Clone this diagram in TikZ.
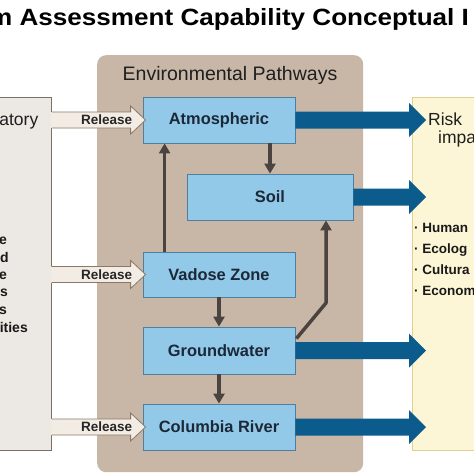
\documentclass[tikz,border=0pt]{standalone}
\usepackage{fontspec}
\setmainfont{Liberation Sans}
\usetikzlibrary{arrows.meta,calc}
\definecolor{panel}{HTML}{C8B7A7}
\definecolor{boxfill}{HTML}{93C9E8}
\definecolor{boxedge}{HTML}{4F7FA0}
\definecolor{boxtext}{HTML}{1B2838}
\definecolor{bluearr}{HTML}{0B5B8C}
\definecolor{connc}{HTML}{4A4340}
\definecolor{invfill}{HTML}{ECE8E4}
\definecolor{invedge}{HTML}{7D7064}
\definecolor{relfill}{HTML}{F3ECE4}
\definecolor{reledge}{HTML}{8A7866}
\definecolor{riskfill}{HTML}{FDF6D6}
\definecolor{riskedge}{HTML}{E2D08C}
\newcommand\releasearrow[1]{%
  \path[fill=relfill] let \p1=(inv.east), \p2=(#1.west) in
    (\x1-1pt,\y2+8pt) -- (\x2-12pt,\y2+8pt) -- (\x2-12pt,\y2+14pt) -- (\x2+3pt,\y2)
    -- (\x2-12pt,\y2-14pt) -- (\x2-12pt,\y2-8pt) -- (\x1-1pt,\y2-8pt) -- cycle;
  \draw[reledge,line width=0.8pt,line join=miter] let \p1=(inv.east), \p2=(#1.west) in
    (\x1,\y2+8pt) -- (\x2-12pt,\y2+8pt) -- (\x2-12pt,\y2+14pt) -- (\x2+3pt,\y2)
    -- (\x2-12pt,\y2-14pt) -- (\x2-12pt,\y2-8pt) -- (\x1,\y2-8pt);
  \node[relfont] (rel#1) at ($(#1.west)+(-36,0)$) {Release};
}
\newcommand\riskarrow[1]{%
  \fill[bluearr] let \p1=(#1.east), \p2=(risk.west) in
    (\x1,\y1+8.5pt) -- (\x2-3pt,\y1+8.5pt) -- (\x2-3pt,\y1+17pt) -- (\x2+14pt,\y1)
    -- (\x2-3pt,\y1-17pt) -- (\x2-3pt,\y1-8.5pt) -- (\x1,\y1-8.5pt) -- cycle;
}
\begin{document}
\begin{tikzpicture}[x=1pt,y=-1pt,
  pbox/.style={draw=boxedge,line width=0.8pt,fill=boxfill,text=boxtext,
    font=\fontsize{16.4}{18}\selectfont\bfseries,inner sep=0pt},
  conn/.style={draw=connc,line width=3.5pt,-{Triangle[length=10pt,width=11pt]}},
  relfont/.style={font=\fontsize{13.5}{15}\selectfont\bfseries,text=black!85,inner sep=0pt},
  listtext/.style={font=\fontsize{14}{16}\selectfont\bfseries,text=black!90,inner sep=0pt,anchor=base east},
  bullet/.style={font=\fontsize{13.5}{15}\selectfont\bfseries,text=black!90,inner sep=0pt,anchor=base west},
  ]
\useasboundingbox (0,0) rectangle (474,474);
\fill[white] (0,0) rectangle (474,474);
% title
\node[anchor=base west,inner sep=0pt,text=black,font=\fontsize{23.5}{26}\selectfont\bfseries] (title) at (-11,25)
  {\scalebox{1.11}[1]{m Assessment Capability Conceptual I}};
% panel
\node[fill=panel,rounded corners=9pt,minimum width=266,minimum height=417,anchor=north west,inner sep=0pt] (panel) at (97,55) {};
\node[font=\fontsize{19.5}{22}\selectfont,text=black!88,inner sep=0pt] (envtitle) at (230,75) {Environmental Pathways};
% inventory box
\node[draw=invedge,fill=invfill,line width=0.8pt,minimum width=70,minimum height=353,anchor=north east,inner sep=0pt] (inv) at (52,97) {};
\node[anchor=base east,inner sep=0pt,font=\fontsize{17.5}{20}\selectfont,text=black!88] (invtitle) at (38.5,125) {atory};
\node[listtext] (l1) at (7,244) {e};
\node[listtext] (l2) at (9,262) {d};
\node[listtext] (l3) at (7,279) {e};
\node[listtext] (l4) at (8,296) {s};
\node[listtext] (l5) at (7,314) {s};
\node[listtext] (l6) at (28,332) {ities};
% risk box
\node[draw=riskedge,fill=riskfill,line width=0.8pt,minimum width=80,minimum height=353,anchor=north west,inner sep=0pt] (risk) at (412,97) {};
\node[anchor=base west,inner sep=0pt,font=\fontsize{17.5}{20}\selectfont,text=black!88] (risktitle) at (428,125) {Risk};
\node[anchor=base west,inner sep=0pt,font=\fontsize{17.5}{20}\selectfont,text=black!88] (risktitle2) at (438,143) {impa};
\node[bullet] (b1) at (414,232) {· Human};
\node[bullet] (b2) at (414,253) {· Ecolog};
\node[bullet] (b3) at (414,274) {· Cultura};
\node[bullet] (b4) at (414,295) {· Econom};
% pathway boxes
\node[pbox,minimum width=152,minimum height=46] (atm) at (219,120) {Atmospheric};
\node[pbox,minimum width=166,minimum height=46] (soil) at (270,197) {Soil};
\node[pbox,minimum width=152,minimum height=45] (vz) at (219,274.5) {Vadose Zone};
\node[pbox,minimum width=152,minimum height=47] (gw) at (219,350.5) {Groundwater};
\node[pbox,minimum width=152,minimum height=46] (cr) at (219,427) {Columbia River};
% release arrows
\releasearrow{atm}
\releasearrow{vz}
\releasearrow{cr}
% risk arrows
\riskarrow{atm}
\riskarrow{soil}
\riskarrow{gw}
\riskarrow{cr}
% internal connectors
\draw[conn] (atm.south -| soil.north) -- (soil.north);
\draw[conn] ($(vz.north west)+(22,0)$) -- ($(atm.south west)+(22,0)$);
\draw[conn] (vz.south) -- (gw.north);
\draw[conn] (gw.south) -- (cr.north);
\coordinate (bend) at (326,303);
\draw[conn,line join=round] ($(gw.east)+(1,-12)$) -- (bend) -- (bend |- soil.south);
\end{tikzpicture}
\end{document}
